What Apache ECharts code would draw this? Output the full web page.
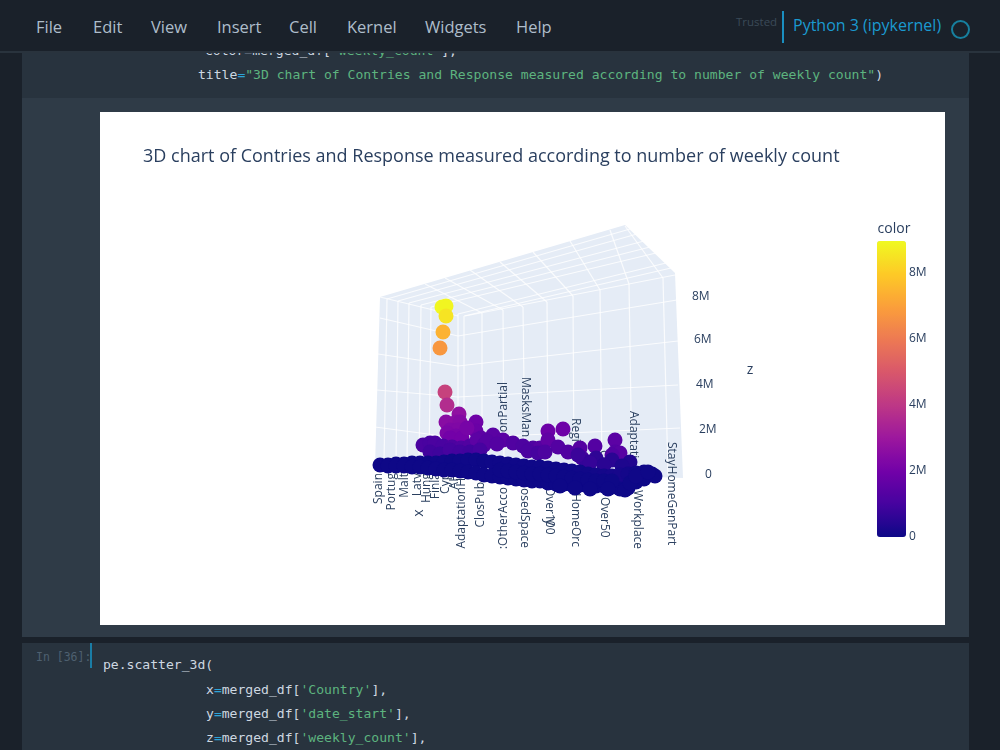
<!DOCTYPE html>
<html>
<head>
<meta charset="utf-8">
<script src="https://cdn.jsdelivr.net/npm/echarts@6/dist/echarts.min.js"></script>
<style>
  html, body { margin: 0; padding: 0; background: #1a212a; width: 1000px; height: 750px; overflow: hidden; }
  .abs { position: absolute; white-space: pre; }
  #cellIn { position: absolute; left: 22px; top: 0; width: 947px; height: 98px; background: #28333e; }
  #cellOut { position: absolute; left: 22px; top: 98px; width: 947px; height: 539px; background: #2f3b47; }
  #cell2 { position: absolute; left: 22px; top: 643px; width: 947px; height: 107px; background: #28333e; }
  #topbar { position: absolute; left: 0; top: 0; width: 1000px; height: 51px; background: #1a212a; border-bottom: 2px solid #29333d; }
  .menu { font: 16.5px "Open Sans", sans-serif; color: #aebdca; top: 15px; }
  .code { font: 13.08px "DejaVu Sans Mono", monospace; color: #ced8e1; }
  .code b { font-weight: normal; color: #2ea4d8; }
  .code i { font-style: normal; color: #5db37f; }
  #chart { position: absolute; left: 100px; top: 112px; width: 845px; height: 513px; background: #fff; }
</style>
</head>
<body>
<div id="cellIn"></div>
<div id="cellOut"></div>
<div id="cell2"></div>
<div class="abs code" style="left:205px;top:43px">color=merged_df[<i>'weekly_count'</i>],</div>
<div class="abs code" style="left:198px;top:67px">title<b>=</b><i>"3D chart of Contries and Response measured according to number of weekly count"</i>)</div>

<div id="topbar"></div>
<div class="abs menu" style="left:36px">File</div>
<div class="abs menu" style="left:93px">Edit</div>
<div class="abs menu" style="left:151px">View</div>
<div class="abs menu" style="left:217px">Insert</div>
<div class="abs menu" style="left:289px">Cell</div>
<div class="abs menu" style="left:347px">Kernel</div>
<div class="abs menu" style="left:425px">Widgets</div>
<div class="abs menu" style="left:516px">Help</div>
<div class="abs" style="left:736px;top:14px;font:11.5px 'Open Sans',sans-serif;color:#3b4a58">Trusted</div>
<div class="abs" style="left:782px;top:11px;width:2px;height:32px;background:#1a8fc0"></div>
<div class="abs" style="left:793px;top:14px;font:16px 'Open Sans',sans-serif;color:#1a9ad0">Python 3 (ipykernel)</div>
<div class="abs" style="left:951px;top:20px;width:15px;height:15px;border:2px solid #17809f;border-radius:50%"></div>

<div id="chart"></div>

<div class="abs" style="left:90px;top:643px;width:2px;height:25px;background:#1a7da6"></div>
<div class="abs code" style="left:36px;top:650px;font-size:11.5px;color:#4e6070">In [36]:</div>
<div class="abs code" style="left:103px;top:657px">pe.scatter_3d(</div>
<div class="abs code" style="left:206px;top:682px">x<b>=</b>merged_df[<i>'Country'</i>],</div>
<div class="abs code" style="left:206px;top:706px">y<b>=</b>merged_df[<i>'date_start'</i>],</div>
<div class="abs code" style="left:206px;top:730px">z<b>=</b>merged_df[<i>'weekly_count'</i>],</div>

<script>
// the 3d scene is flattened: everything below is read off the picture and sits on
// two hidden value axes that span the white plot area
const chartTitle = "3D chart of Contries and Response measured according to number of weekly count";

// purple / high points first so the dark band ends up in front
const pointX = [
  442, 446, 446, 443, 440, 445, 447,
  459, 446, 456, 460, 450, 458, 447, 456, 476, 476, 450, 462, 467, 481,
  423, 430, 435, 443, 452, 461, 470, 477, 484, 493, 487, 503, 497, 513, 523, 533, 540, 548, 563, 548, 558, 568, 580, 582, 595, 615, 615, 620, 612, 587, 578, 596, 612, 630,
  430, 440, 450, 460, 470, 480, 528, 538, 545, 590, 604, 622,
  380, 388, 396, 404, 412, 420, 428, 436, 444, 452, 460, 468, 476, 484, 492, 500, 508, 516, 524, 532, 540, 548, 556, 564, 572, 580, 588, 596, 604, 612, 620, 628, 636, 644, 652,
  388, 396, 404, 412, 420, 428, 436, 444, 452, 460, 468, 476, 484, 492, 500, 508, 516, 524, 532, 540, 548, 556, 564, 572, 580, 588, 596, 604, 612, 620, 628, 636, 644, 655,
  500, 508, 516, 524, 532, 540, 548, 556, 564, 572, 580, 588, 596, 604, 612, 625, 630,
  560, 575, 590, 608, 636, 648
];
const pointY = [
  307, 306, 316, 332, 348, 392, 405,
  414, 422, 422, 422, 430, 430, 433, 436, 422, 431, 438, 438, 428, 438,
  445, 443, 443, 446, 447, 448, 446, 440, 445, 435, 441, 440, 444, 443, 446, 448, 448, 431, 429, 440, 447, 452, 448, 458, 446, 440, 452, 453, 455, 462, 455, 458, 460, 462,
  452, 454, 450, 452, 452, 450, 451, 453, 452, 463, 465, 466,
  465, 465, 464, 464, 463, 463, 463, 463, 462, 461, 461, 460, 460, 461, 462, 463, 464, 465, 466, 467, 467, 468, 469, 470, 471, 472, 474, 475, 476, 476, 475, 474, 473, 472, 474,
  466, 466, 466, 467, 467, 468, 469, 470, 470, 471, 472, 473, 475, 476, 477, 478, 479, 480, 481, 481, 483, 484, 484, 485, 485, 486, 486, 486, 487, 489, 488, 482, 479, 476,
  470, 471, 472, 473, 474, 474, 475, 476, 477, 478, 479, 480, 481, 481, 481, 490, 483,
  486, 488, 489, 489, 476, 472
];
const pointCount = [
  8900000, 8850000, 8500000, 7400000, 6750000, 4300000, 3650000,
  2700000, 2500000, 2500000, 2400000, 2300000, 2300000, 2200000, 2100000, 1900000, 1800000, 2000000, 2000000, 2100000, 1500000,
  1100000, 1050000, 1100000, 1050000, 1150000, 1200000, 1250000, 1500000, 1300000, 1450000, 1350000, 1450000, 1300000, 1250000, 1150000, 1200000, 1350000, 1850000, 1900000, 1600000, 1300000, 1250000, 1350000, 1000000, 1300000, 1500000, 1300000, 1400000, 1250000, 700000, 800000, 600000, 500000, 350000,
  900000, 850000, 1000000, 950000, 900000, 1000000, 1100000, 1000000, 1150000, 700000, 500000, 300000,
  30000, 20000, 20000, 30000, 20000, 30000, 20000, 30000, 40000, 20000, 30000, 40000, 30000, 20000, 30000, 40000, 30000, 40000, 30000, 40000, 30000, 40000, 20000, 30000, 40000, 50000, 60000, 90000, 120000, 150000, 180000, 120000, 90000, 60000, 30000,
  20000, 10000, 20000, 10000, 20000, 10000, 30000, 20000, 10000, 20000, 10000, 20000, 10000, 20000, 10000, 20000, 10000, 30000, 20000, 10000, 20000, 10000, 20000, 10000, 10000, 20000, 10000, 10000, 20000, 10000, 20000, 10000, 10000, 20000,
  10000, 20000, 10000, 20000, 10000, 20000, 10000, 20000, 10000, 20000, 10000, 20000, 10000, 20000, 10000, 20000, 10000,
  10000, 10000, 10000, 10000, 60000, 40000
];

// silhouette of the walls
const wallX = [380, 625, 675, 683, 375];
const wallY = [297, 225, 273, 478, 467];

// white grid segments of the scene, from (x1, y1) to (x2, y2)
const gridX1 = [387, 398, 409, 421, 431, 458, 464,  482, 503, 523, 547, 573, 600, 629, 663,  380, 378, 377, 375,  458, 458, 458, 458,  380, 465,
                387, 398, 409, 421, 431, 458, 464,  482, 503, 523, 547, 573, 600, 629, 663];
const gridY1 = [299, 301, 303, 305, 307, 314, 316,  313, 310, 307, 302, 296, 290, 284, 278,  318, 354, 390, 427,  336, 366, 397, 438,  297, 316,
                299, 301, 303, 305, 307, 314, 316,  313, 310, 307, 302, 296, 290, 284, 278];
const gridX2 = [384, 396, 407, 419, 429, 458, 464,  482, 504, 525, 548, 574, 602, 632, 668,  458, 458, 458, 458,  677, 678, 678, 680,  458, 675,
                630, 637, 644, 650, 656, 666, 671,  425, 445, 470, 500, 533, 570, 610, 625];
const gridY2 = [462, 462, 462, 462, 462, 462, 462,  465, 466, 467, 468, 469, 471, 473, 475,  336, 366, 397, 438,  300, 341, 385, 428,  316, 275,
                229, 234, 241, 247, 253, 263, 268,  284, 278, 270, 262, 252, 241, 230, 226];

// category ticks, bottom to top reading ones then top to bottom reading ones
const upTickLabels = ["Spain", "Portug", "Malt", "Latv", "Hung", "Finla", "Cyp", "AH", "AdaptationH", "ClosPub", ":OtherAcco", "onPartial"];
const upTickX = [379, 392, 405, 418, 427, 436, 446, 455, 462, 481, 504, 504];
const upTickY = [473, 473, 473, 473, 473, 473, 473, 473, 478, 482, 487, 382];
const downTickLabels = ["osedSpace", "Over100", "HomeOrc", "Over50", "Workplace", "StayHomeGenPart", "MasksMan", "Regi", "Adaptatio", "Ov"];
const downTickX = [524, 549, 575, 604, 637, 671, 525, 575, 633, 603];
const downTickY = [488, 487, 493, 497, 490, 442, 377, 418, 411, 450];

const zTickLabels = ["8M", "6M", "4M", "2M", "0"];
const zTickX = [692, 694, 696, 699, 705];
const zTickY = [297, 340, 385, 430, 475];

const axisTitles = ["x", "y", "z", "color"];
const axisTitleX = [419, 550, 750, 894];
const axisTitleY = [513, 522, 370, 229];
const axisTitleTurn = [90, -90, 0, 0];

const plasma = ["#0d0887", "#46039f", "#7201a8", "#9c179e", "#bd3786", "#d8576b", "#ed7953", "#fb9f3a", "#fdca26", "#f0f921"];
const colorMax = 8940000;
const inkColor = "#2a3f5f";
const textFont = '"Open Sans", sans-serif';

function formatCount(v) {
  return v === 0 ? "0" : v / 1000000 + "M";
}

function textSeries(labels, xs, ys, deg, align, size) {
  return {
    type: "custom",
    xAxisIndex: 0,
    yAxisIndex: 0,
    silent: true,
    z: 3,
    clip: false,
    data: labels.map((l, i) => [xs[i], ys[i]]),
    renderItem: function (params, api) {
      const i = params.dataIndex;
      const turn = Array.isArray(deg) ? deg[i] : deg;
      const p = api.coord([xs[i], ys[i]]);
      return {
        type: "text",
        x: p[0],
        y: p[1],
        rotation: (turn * Math.PI) / 180,
        style: { text: labels[i], fill: inkColor, font: size + "px " + textFont, align: align, verticalAlign: "middle" }
      };
    }
  };
}

const sceneSeries = [
  {
    type: "custom",
    silent: true,
    z: 1,
    data: [[wallX[0], wallY[0]]],
    renderItem: function (params, api) {
      const pts = wallX.map((x, i) => api.coord([x, wallY[i]]));
      return { type: "polygon", shape: { points: pts }, style: { fill: "#e5ecf6" } };
    }
  },
  {
    type: "custom",
    silent: true,
    z: 2,
    data: gridX1.map((x, i) => [x, gridY1[i], gridX2[i], gridY2[i]]),
    renderItem: function (params, api) {
      const a = api.coord([api.value(0), api.value(1)]);
      const b = api.coord([api.value(2), api.value(3)]);
      return {
        type: "line",
        shape: { x1: a[0], y1: a[1], x2: b[0], y2: b[1] },
        style: { stroke: "#ffffff", lineWidth: 1.2, opacity: 0.8 }
      };
    }
  },
  textSeries(upTickLabels, upTickX, upTickY, 90, "right", 12),
  textSeries(downTickLabels, downTickX, downTickY, -90, "left", 12),
  textSeries(zTickLabels, zTickX, zTickY, 0, "left", 12),
  textSeries(axisTitles, axisTitleX, axisTitleY, axisTitleTurn, "center", 14),
  {
    name: "weekly_count",
    type: "scatter",
    z: 4,
    symbolSize: 15,
    itemStyle: { opacity: 1 },
    data: pointX.map((x, i) => [x, pointY[i], pointCount[i]])
  }
];

const option = {
  animation: false,
  backgroundColor: "#ffffff",
  title: {
    text: chartTitle,
    left: 43,
    top: 36,
    padding: 0,
    textStyle: { color: inkColor, fontFamily: textFont, fontSize: 18, fontWeight: "normal" }
  },
  grid: [
    { left: 0, right: 0, top: 0, bottom: 0 },
    { left: 777, top: 129, width: 29, height: 296 }
  ],
  xAxis: [
    { type: "value", gridIndex: 0, min: 100, max: 945, show: false },
    { type: "value", gridIndex: 1, min: 0, max: 1, show: false }
  ],
  yAxis: [
    { type: "value", gridIndex: 0, min: 112, max: 625, inverse: true, show: false },
    {
      type: "value",
      gridIndex: 1,
      min: 0,
      max: colorMax,
      interval: 2000000,
      position: "right",
      axisLine: { show: false },
      axisTick: { show: false },
      splitLine: { show: false },
      axisLabel: {
        margin: 3,
        color: inkColor,
        fontFamily: textFont,
        fontSize: 12,
        showMaxLabel: false,
        formatter: formatCount
      }
    }
  ],
  visualMap: {
    type: "continuous",
    seriesIndex: sceneSeries.length - 1,
    dimension: 2,
    min: 0,
    max: colorMax,
    left: 777,
    top: 129,
    itemWidth: 29,
    itemHeight: 296,
    padding: 0,
    calculable: false,
    realtime: false,
    inRange: { color: plasma }
  },
  series: sceneSeries
};

const chart = echarts.init(document.getElementById("chart"));
chart.setOption(option);
</script>
</body>
</html>
